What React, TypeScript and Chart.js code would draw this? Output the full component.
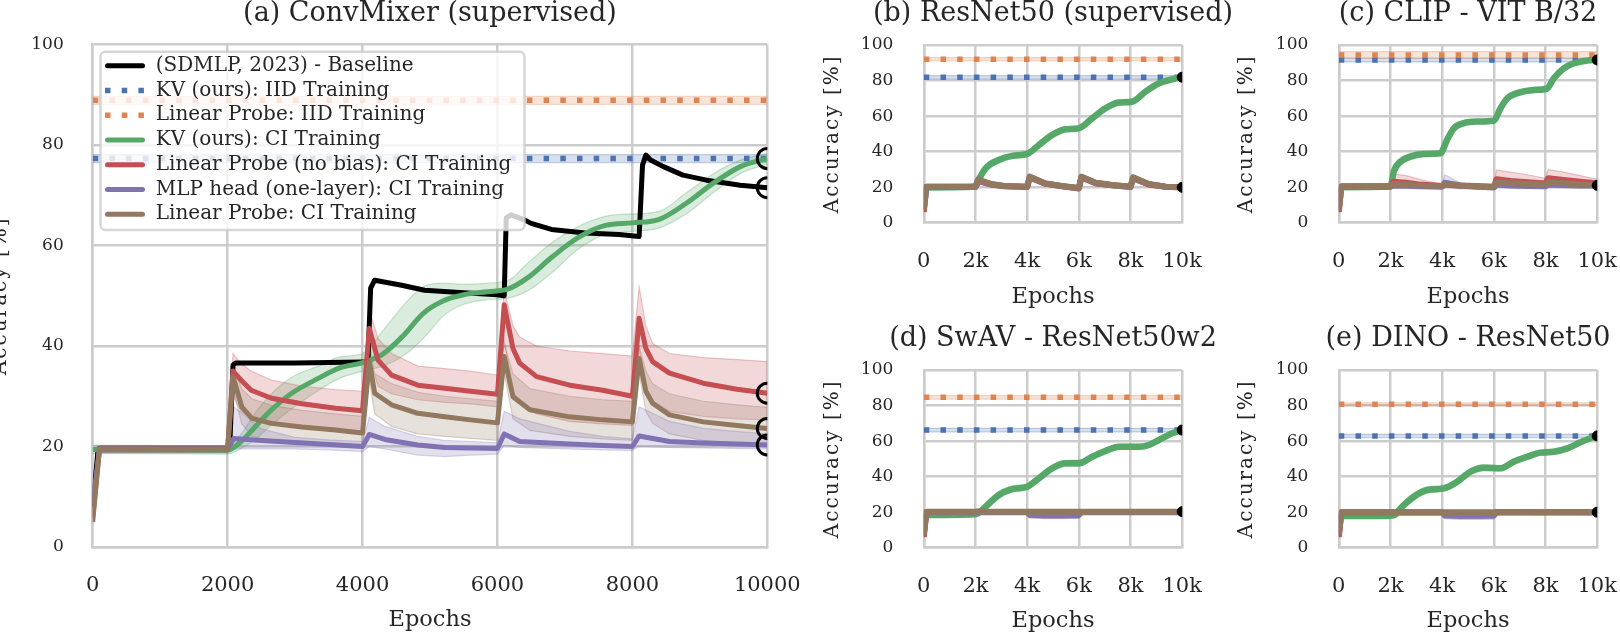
import React, { useEffect, useRef } from 'react';
import { Chart, registerables } from 'chart.js';
Chart.register(...registerables);

const FONT = "'DejaVu Serif', serif";
const GRID = '#cccccc';
const TEXT = '#262626';
const COL = { black: '#000000', blue: '#4C72B0', orange: '#DD8452', green: '#55A868', red: '#C44E52', purple: '#8172B3', brown: '#937860' };

// ---------------- tick labels ----------------
const Y_LABELS = ['0', '20', '40', '60', '80', '100'];
const X_LABELS_MAIN = ['0', '2000', '4000', '6000', '8000', '10000'];
const X_LABELS_SUB = ['0', '2k', '4k', '6k', '8k', '10k'];
const IID_X = [0, 10000];

const LEGEND_LABELS = [
  '(SDMLP, 2023) - Baseline',
  'KV (ours): IID Training',
  'Linear Probe: IID Training',
  'KV (ours): CI Training',
  'Linear Probe (no bias): CI Training',
  'MLP head (one-layer): CI Training',
  'Linear Probe: CI Training',
];

// ---------------- (a) ConvMixer ----------------
const A_BASE_X = [0, 80, 2030, 2080, 2120, 3000, 4000, 4080, 4120, 4180, 4580, 4920, 5500, 6000, 6100, 6130, 6200, 6300, 6400, 6500, 6800, 7300, 7800, 8100, 8150, 8200, 8270, 8460, 8750, 9100, 9600, 10000];
const A_BASE_Y = [8, 19.5, 19.5, 36.2, 36.6, 36.6, 36.8, 36.8, 51.5, 53.1, 52.1, 51.1, 50.6, 50.2, 50.0, 65.5, 66.1, 65.6, 65.1, 64.4, 63.2, 62.5, 62.2, 61.8, 76.0, 78.0, 77.0, 75.7, 74.0, 73.0, 72.0, 71.5];

const A_KV_X = [0, 2000, 2200, 2400, 2650, 2950, 3350, 3650, 4000, 4300, 4600, 4900, 5200, 5500, 5850, 6150, 6450, 6800, 7200, 7600, 8000, 8400, 8800, 9200, 9600, 10000];
const A_KV_Y = [19.4, 19.3, 21.0, 23.8, 27.3, 30.6, 33.6, 35.6, 36.7, 38.4, 42.0, 46.5, 49.0, 50.2, 50.8, 51.3, 53.6, 57.6, 61.6, 64.0, 64.5, 65.2, 68.4, 72.4, 75.7, 77.3];
const A_KV_UP = [20.3, 20.1, 22.5, 26.5, 30.5, 33.8, 36.0, 37.8, 38.5, 43.0, 48.0, 51.8, 52.5, 52.3, 52.5, 53.0, 56.5, 60.5, 63.8, 65.8, 66.3, 66.8, 70.5, 74.3, 77.0, 78.3];
const A_KV_LO = [18.6, 18.5, 19.6, 21.3, 24.3, 27.5, 31.2, 33.5, 35.0, 36.0, 38.0, 41.5, 46.0, 48.3, 49.2, 49.5, 51.0, 54.5, 59.3, 62.2, 62.8, 63.5, 66.3, 70.5, 74.3, 76.2];

const A_LPNB_X = [0, 100, 2000, 2080, 2200, 2350, 2650, 3100, 3600, 4000, 4100, 4230, 4430, 4820, 5220, 5600, 6000, 6100, 6230, 6330, 6580, 7070, 7560, 8000, 8100, 8200, 8300, 8550, 9050, 9550, 10000];
const A_LPNB_Y = [6, 19.5, 19.5, 35.0, 33.2, 31.2, 29.6, 28.5, 27.6, 27.1, 43.5, 37.2, 34.2, 32.2, 31.6, 31.0, 30.4, 48.2, 39.5, 36.6, 33.9, 32.2, 31.2, 30.0, 45.5, 39.5, 36.9, 34.6, 32.6, 31.4, 30.6];
const A_LPNB_UP = [6.5, 20.2, 20.2, 38.5, 36.5, 35.0, 33.2, 32.0, 31.3, 31.0, 47.2, 41.5, 38.5, 36.0, 35.5, 35.0, 34.2, 51.2, 44.0, 41.8, 40.0, 39.0, 38.5, 38.0, 51.8, 44.0, 40.5, 38.5, 37.7, 37.3, 36.9];
const A_LPNB_LO = [5.5, 18.8, 18.8, 30.0, 27.0, 25.5, 24.6, 23.8, 23.0, 22.6, 37.5, 32.0, 30.5, 29.3, 28.8, 28.5, 27.9, 41.0, 31.0, 28.5, 26.5, 25.0, 24.5, 24.2, 39.5, 31.0, 29.0, 27.0, 26.0, 25.5, 25.3];

const A_MLP_X = [0, 100, 2000, 2090, 2500, 3000, 3500, 4000, 4100, 4330, 4820, 5220, 5600, 6000, 6100, 6330, 7070, 7560, 8000, 8100, 8550, 9050, 9550, 10000];
const A_MLP_Y = [8.5, 19.5, 19.5, 21.6, 21.2, 20.8, 20.4, 20.0, 22.4, 21.4, 20.3, 19.8, 19.7, 19.6, 22.5, 21.0, 20.5, 20.2, 20.0, 22.1, 21.0, 20.7, 20.5, 20.3];
const A_MLP_UP = [9, 20.2, 20.2, 27.9, 23.5, 21.8, 21.3, 21.0, 25.8, 24.0, 22.0, 21.2, 21.0, 20.8, 27.0, 25.5, 23.0, 22.0, 21.5, 27.9, 25.0, 23.6, 23.0, 22.5];
const A_MLP_LO = [8, 18.8, 18.8, 19.5, 19.5, 19.5, 19.3, 19.0, 20.0, 19.5, 18.3, 18.0, 18.3, 18.5, 20.2, 19.8, 19.5, 19.3, 19.2, 20.0, 19.8, 19.7, 19.6, 19.5];

const A_LP_X = [0, 100, 2000, 2080, 2210, 2360, 2650, 3100, 3600, 4000, 4100, 4180, 4430, 4820, 5220, 5600, 6000, 6100, 6230, 6480, 7070, 7560, 8000, 8100, 8200, 8300, 8550, 9050, 9550, 10000];
const A_LP_Y = [5, 19.5, 19.5, 33.9, 27.9, 25.6, 24.6, 23.9, 23.3, 22.7, 36.9, 30.6, 28.3, 26.6, 25.9, 25.3, 24.7, 37.9, 29.9, 27.3, 25.9, 25.3, 24.9, 37.5, 31.0, 28.6, 26.3, 24.9, 24.2, 23.6];
const A_LP_UP = [5.5, 20.2, 20.2, 36.0, 31.5, 29.5, 28.2, 27.2, 26.5, 26.0, 39.5, 34.5, 32.5, 30.8, 30.0, 29.5, 29.0, 40.5, 34.5, 31.5, 30.0, 29.3, 29.0, 40.0, 35.0, 32.5, 30.5, 29.0, 28.3, 27.8];
const A_LP_LO = [4.5, 18.8, 18.8, 31.5, 24.5, 22.0, 21.2, 20.8, 20.5, 20.3, 33.5, 26.5, 24.0, 22.5, 22.0, 21.6, 21.2, 34.5, 25.5, 23.2, 22.0, 21.5, 21.2, 34.5, 27.0, 24.6, 22.5, 21.2, 20.6, 20.2];

const A_IID_KV = [77.3, 76.5, 78.1];   // value, lower, upper
const A_IID_LP = [88.9, 88.1, 89.7];

// ---------------- shared x grid for the near-chance series of (b)-(e) ----------------
const SUB_X = [0, 100, 2000, 2100, 2600, 3100, 4000, 4100, 4700, 5350, 6000, 6100, 6650, 7300, 8000, 8100, 8700, 9350, 10000];

// ---------------- (b) ResNet50 ----------------
const B_KV_X = [0, 2000, 2100, 2390, 2900, 3420, 4000, 4450, 4970, 5480, 6000, 6520, 7030, 7550, 8060, 8580, 9100, 9610, 10000];
const B_KV_Y = [19.8, 20.3, 23.5, 30.6, 35.3, 37.6, 38.7, 43.7, 49.4, 52.6, 53.1, 58.8, 64.4, 67.6, 68.1, 73.8, 78.5, 80.7, 81.9];
const B_KV_UP = [20.6, 20.9, 25.5, 32.5, 37.0, 39.0, 40.0, 45.5, 51.0, 54.0, 54.5, 60.5, 66.0, 69.0, 69.5, 75.3, 79.8, 81.8, 82.8];
const B_KV_LO = [19.0, 19.5, 21.5, 28.5, 33.5, 36.0, 37.2, 42.0, 47.5, 51.0, 51.8, 57.0, 62.5, 66.0, 66.8, 72.0, 77.0, 79.5, 81.0];
const B_LP = [7, 20.3, 20.3, 24.2, 21.8, 20.7, 20.3, 25.9, 22.1, 20.7, 19.5, 25.9, 22.5, 21.2, 20.3, 25.5, 21.8, 20.3, 19.9];
const B_LPNB = [6, 20.2, 20.2, 23.5, 21.5, 20.5, 20.1, 25.5, 22.0, 20.5, 19.3, 25.5, 22.2, 21.0, 20.1, 25.0, 21.5, 20.2, 19.8];
const B_LPNB_UP = [6.5, 20.8, 20.8, 25.0, 22.8, 21.5, 21.0, 27.0, 23.5, 21.8, 20.8, 27.0, 23.8, 22.3, 21.3, 26.5, 23.0, 21.5, 21.0];
const B_LPNB_LO = [5.5, 19.6, 19.6, 22.0, 20.3, 19.5, 19.2, 24.0, 20.6, 19.3, 18.2, 24.0, 20.8, 19.8, 19.0, 23.5, 20.2, 19.0, 18.8];
const B_MLP = [8, 20.1, 20.1, 23.8, 21.6, 20.6, 20.2, 25.7, 22.0, 20.6, 19.4, 25.7, 22.3, 21.1, 20.2, 25.3, 21.7, 20.2, 19.9];
const B_MLP_UP = [8.5, 20.7, 20.7, 25.5, 23.0, 21.6, 21.0, 27.5, 23.6, 21.8, 20.6, 27.5, 24.0, 22.5, 21.3, 27.0, 23.2, 21.5, 21.0];
const B_MLP_LO = [7.5, 19.5, 19.5, 22.2, 20.3, 19.6, 19.3, 24.0, 20.6, 19.4, 18.3, 24.0, 20.7, 19.7, 19.0, 23.6, 20.3, 19.0, 18.8];
const B_IID_KV = [81.9, 81.0, 82.8];
const B_IID_LP = [92.0, 91.1, 92.9];

// ---------------- (c) CLIP ----------------
const C_KV_X = [0, 2000, 2130, 2390, 2770, 3290, 3930, 4190, 4450, 4840, 5350, 6000, 6260, 6520, 6900, 7550, 8060, 8320, 8710, 9100, 9610, 10000];
const C_KV_Y = [20.0, 20.5, 29.0, 34.4, 37.2, 38.7, 39.1, 46.6, 53.1, 56.0, 56.9, 57.4, 64.4, 70.0, 72.9, 74.7, 75.5, 81.3, 86.9, 89.7, 91.2, 91.6];
const C_KV_UP = [20.8, 21.3, 31.5, 36.5, 39.0, 40.2, 40.5, 49.0, 55.0, 57.5, 58.2, 58.8, 66.5, 71.8, 74.5, 76.2, 77.0, 83.5, 88.5, 91.0, 92.3, 92.6];
const C_KV_LO = [19.2, 19.7, 26.5, 32.0, 35.3, 37.2, 37.7, 44.0, 51.0, 54.5, 55.6, 56.0, 62.0, 68.0, 71.2, 73.2, 74.0, 79.0, 85.2, 88.3, 90.0, 90.6];
const C_LP = [7, 20.5, 20.5, 21.8, 21.3, 20.9, 20.6, 21.8, 20.9, 20.6, 20.2, 22.8, 22.3, 21.8, 21.2, 22.8, 22.2, 21.6, 21.0];
const C_LPNB = [6, 20.4, 20.4, 23.0, 22.5, 21.5, 20.6, 21.5, 20.8, 20.4, 20.1, 24.5, 23.5, 22.8, 22.0, 25.0, 24.0, 23.0, 22.0];
const C_LPNB_UP = [6.5, 21.0, 21.0, 27.5, 26.5, 24.5, 21.5, 22.5, 21.8, 21.3, 21.0, 29.7, 28.5, 27.0, 25.0, 30.0, 28.5, 26.5, 24.5];
const C_LPNB_LO = [5.5, 19.8, 19.8, 20.5, 20.0, 19.6, 19.5, 20.3, 19.6, 19.4, 19.2, 20.5, 20.2, 20.0, 19.7, 20.5, 20.2, 20.0, 19.8];
const C_MLP = [8, 20.3, 20.3, 21.0, 20.8, 20.5, 20.3, 22.5, 21.0, 20.3, 19.8, 21.5, 21.0, 20.7, 20.5, 21.5, 21.2, 21.0, 21.0];
const C_MLP_UP = [8.5, 20.9, 20.9, 22.5, 22.0, 21.5, 21.0, 27.0, 22.5, 21.2, 20.8, 23.0, 22.5, 22.0, 21.5, 23.5, 23.5, 23.8, 24.0];
const C_MLP_LO = [7.5, 19.7, 19.7, 19.8, 19.7, 19.5, 19.5, 19.8, 19.2, 18.8, 18.6, 19.8, 19.6, 19.5, 19.4, 19.8, 19.6, 19.5, 19.5];
const C_IID_KV = [91.6, 90.5, 92.6];
const C_IID_LP = [94.4, 92.6, 96.3];

// ---------------- (d) SwAV ----------------
const D_KV_X = [0, 2000, 2390, 2900, 3420, 4000, 4450, 4970, 5480, 6000, 6520, 7030, 7550, 8320, 8710, 9100, 9610, 10000];
const D_KV_Y = [18.4, 18.8, 23.1, 29.7, 33.0, 34.3, 39.0, 44.7, 47.5, 47.5, 51.2, 54.4, 56.8, 56.8, 57.8, 60.6, 64.4, 66.2];
const D_KV_UP = [19.2, 19.6, 25.0, 31.8, 34.8, 36.0, 41.0, 46.5, 49.2, 49.3, 52.8, 56.0, 58.2, 58.2, 59.3, 62.0, 65.6, 67.2];
const D_KV_LO = [17.6, 18.0, 21.2, 27.6, 31.2, 32.6, 37.0, 42.8, 45.8, 45.8, 49.6, 52.8, 55.4, 55.4, 56.3, 59.2, 63.2, 65.2];
const D_LP = [7, 20.3, 20.3, 20.4, 20.3, 20.3, 20.3, 20.3, 20.2, 20.2, 20.2, 20.3, 20.3, 20.3, 20.3, 20.3, 20.3, 20.3, 20.3];
const D_LPNB = [6, 20.1, 20.1, 20.2, 20.1, 20.1, 20.1, 18.8, 18.6, 18.6, 18.7, 20.1, 20.1, 20.1, 20.1, 20.1, 20.1, 20.1, 20.1];
const D_LPNB_UP = [6.5, 20.7, 20.7, 20.8, 20.7, 20.7, 20.7, 19.8, 19.6, 19.6, 19.7, 20.7, 20.7, 20.7, 20.7, 20.7, 20.7, 20.7, 20.7];
const D_LPNB_LO = [5.5, 19.5, 19.5, 19.6, 19.5, 19.5, 19.5, 16.8, 16.5, 16.5, 16.6, 19.5, 19.5, 19.5, 19.5, 19.5, 19.5, 19.5, 19.5];
const D_MLP = [8, 20.0, 20.0, 20.1, 20.0, 20.0, 20.0, 18.5, 18.3, 18.3, 18.4, 20.0, 20.0, 20.0, 20.0, 20.0, 20.0, 20.0, 20.0];
const D_MLP_UP = [8.5, 20.6, 20.6, 20.7, 20.6, 20.6, 20.6, 19.6, 19.4, 19.4, 19.5, 20.6, 20.6, 20.6, 20.6, 20.6, 20.6, 20.6, 20.6];
const D_MLP_LO = [7.5, 19.4, 19.4, 19.5, 19.4, 19.4, 19.4, 16.8, 16.4, 16.4, 16.5, 19.4, 19.4, 19.4, 19.4, 19.4, 19.4, 19.4, 19.4];
const D_IID_KV = [66.2, 65.2, 67.2];
const D_IID_LP = [84.6, 83.6, 85.6];

// ---------------- (e) DINO ----------------
const E_KV_X = [0, 2000, 2200, 2390, 2900, 3420, 4060, 4580, 5100, 5610, 6260, 6770, 7290, 7810, 8320, 8840, 9350, 9740, 10000];
const E_KV_Y = [17.8, 18.0, 18.8, 22.2, 28.7, 32.5, 33.4, 37.1, 42.8, 45.0, 44.7, 48.4, 51.2, 53.5, 54.0, 55.9, 59.3, 61.6, 62.9];
const E_KV_UP = [18.6, 18.8, 19.8, 24.0, 30.8, 34.3, 35.0, 39.0, 44.6, 46.8, 46.3, 50.0, 52.7, 55.0, 55.5, 57.3, 60.6, 62.8, 63.9];
const E_KV_LO = [17.0, 17.2, 17.8, 20.4, 26.6, 30.7, 31.8, 35.2, 41.0, 43.2, 43.1, 46.8, 49.7, 52.0, 52.5, 54.5, 58.0, 60.4, 61.9];
const E_LP = [7, 20.0, 20.0, 20.1, 20.0, 20.0, 20.0, 20.0, 19.9, 19.9, 19.9, 20.1, 20.1, 20.1, 20.0, 20.1, 20.1, 20.1, 20.0];
const E_LPNB = [6, 19.9, 19.9, 20.0, 19.9, 19.9, 19.9, 18.5, 18.3, 18.3, 18.4, 19.9, 19.9, 19.9, 19.9, 19.9, 19.9, 19.9, 19.9];
const E_LPNB_UP = [6.5, 20.5, 20.5, 20.6, 20.5, 20.5, 20.5, 19.5, 19.3, 19.3, 19.4, 20.5, 20.5, 20.5, 20.5, 20.5, 20.5, 20.5, 20.5];
const E_LPNB_LO = [5.5, 19.3, 19.3, 19.4, 19.3, 19.3, 19.3, 16.5, 16.2, 16.2, 16.3, 19.3, 19.3, 19.3, 19.3, 19.3, 19.3, 19.3, 19.3];
const E_MLP = [8, 19.8, 19.8, 19.9, 19.8, 19.8, 19.8, 18.2, 18.0, 18.0, 18.1, 19.8, 19.8, 19.8, 19.8, 19.8, 19.8, 19.8, 19.8];
const E_MLP_UP = [8.5, 20.4, 20.4, 20.5, 20.4, 20.4, 20.4, 19.3, 19.1, 19.1, 19.2, 20.4, 20.4, 20.4, 20.4, 20.4, 20.4, 20.4, 20.4];
const E_MLP_LO = [7.5, 19.2, 19.2, 19.3, 19.2, 19.2, 19.2, 16.3, 16.0, 16.0, 16.1, 19.2, 19.2, 19.2, 19.2, 19.2, 19.2, 19.2, 19.2];
const E_IID_KV = [62.9, 62.0, 63.8];
const E_IID_LP = [80.7, 79.9, 81.5];

// ---------------- helpers ----------------
function rgba(hex: string, a: number) {
  const n = parseInt(hex.slice(1), 16);
  return `rgba(${(n >> 16) & 255},${(n >> 8) & 255},${n & 255},${a})`;
}
function pts(xs: number[], ys: number[]) {
  return xs.map((x, i) => ({ x, y: ys[i] }));
}
function lineDs(xs: number[], ys: number[], color: string, width: number, smooth = false): any {
  return {
    data: pts(xs, ys), borderColor: color, backgroundColor: color, borderWidth: width,
    pointRadius: 0, fill: false, tension: 0, borderJoinStyle: 'round',
    cubicInterpolationMode: smooth ? 'monotone' : 'default',
  };
}
function bandDs(xs: number[], up: number[], lo: number[], color: string, smooth = false): any[] {
  const common = {
    pointRadius: 0, tension: 0, borderWidth: 1.2, borderColor: rgba(color, 0.3),
    cubicInterpolationMode: smooth ? 'monotone' : 'default',
  };
  return [
    { ...common, data: pts(xs, up), fill: '+1', backgroundColor: rgba(color, 0.22) },
    { ...common, data: pts(xs, lo), fill: false },
  ];
}
function iidBand(v: number[], color: string): any[] {
  return bandDs(IID_X, [v[2], v[2]], [v[1], v[1]], color);
}
function iidLine(v: number[], color: string): any {
  return { ...lineDs(IID_X, [v[0], v[0]], color, 5.5), borderDash: [5.5, 11.2], borderCapStyle: 'butt' };
}
function endMarks(ys: number[], big: boolean): any {
  return {
    data: ys.map((y) => ({ x: 10000, y })), showLine: false, clip: 0,
    pointRadius: big ? 10 : 5, pointBorderWidth: big ? 3 : 1,
    pointBorderColor: '#000', pointBackgroundColor: big ? 'rgba(0,0,0,0)' : '#000',
  };
}
const last = (a: number[]) => a[a.length - 1];

function withOrder(list: any[]) {
  const n = list.length;
  return list.map((d, i) => ({ ...d, order: n - i }));
}

function mainDatasets() {
  return withOrder([
    ...bandDs(A_KV_X, A_KV_UP, A_KV_LO, COL.green, true),
    ...bandDs(A_LPNB_X, A_LPNB_UP, A_LPNB_LO, COL.red),
    ...bandDs(A_LP_X, A_LP_UP, A_LP_LO, COL.brown),
    ...bandDs(A_MLP_X, A_MLP_UP, A_MLP_LO, COL.purple),
    ...iidBand(A_IID_KV, COL.blue),
    ...iidBand(A_IID_LP, COL.orange),
    iidLine(A_IID_KV, COL.blue),
    iidLine(A_IID_LP, COL.orange),
    lineDs(A_BASE_X, A_BASE_Y, COL.black, 5),
    lineDs(A_KV_X, A_KV_Y, COL.green, 5, true),
    lineDs(A_LPNB_X, A_LPNB_Y, COL.red, 5),
    lineDs(A_MLP_X, A_MLP_Y, COL.purple, 5),
    lineDs(A_LP_X, A_LP_Y, COL.brown, 5),
    endMarks([last(A_KV_Y), last(A_BASE_Y), last(A_LPNB_Y), last(A_LP_Y), last(A_MLP_Y)], true),
  ]);
}

function subDatasets(kvX: number[], kvY: number[], kvUp: number[], kvLo: number[], lp: number[], nb: number[], nbUp: number[], nbLo: number[], mlp: number[], mlpUp: number[], mlpLo: number[], iidKv: number[], iidLp: number[]) {
  return withOrder([
    ...bandDs(kvX, kvUp, kvLo, COL.green, true),
    ...bandDs(SUB_X, nbUp, nbLo, COL.red),
    ...bandDs(SUB_X, mlpUp, mlpLo, COL.purple),
    ...iidBand(iidKv, COL.blue),
    ...iidBand(iidLp, COL.orange),
    iidLine(iidKv, COL.blue),
    iidLine(iidLp, COL.orange),
    lineDs(kvX, kvY, COL.green, 6.5, true),
    lineDs(SUB_X, nb, COL.red, 6),
    lineDs(SUB_X, mlp, COL.purple, 6),
    lineDs(SUB_X, lp, COL.brown, 6),
    endMarks([last(kvY), last(lp)], false),
  ]);
}

type Spec = {
  id: string; title: string;
  canvas: { left: number; top: number; width: number; height: number };
  area: { l: number; r: number; t: number; b: number };
  titleCY: number; epochsCY: number; yTitleX: number;
  xLabels: string[]; xTickSize: number; legend: boolean;
  datasets: () => any[];
};

// canvases are centred on their plot area so that the library title is centred on the plot
const PANELS: Spec[] = [
  { id: 'a', title: '(a) ConvMixer (supervised)', canvas: { left: 0, top: 0, width: 860.4, height: 640 },
    area: { l: 92.7, r: 767.7, t: 44.5, b: 547 }, titleCY: 13.5, epochsCY: 620.5, yTitleX: 1,
    xLabels: X_LABELS_MAIN, xTickSize: 21, legend: true, datasets: mainDatasets },
  { id: 'b', title: '(b) ResNet50 (supervised)', canvas: { left: 812.5, top: 0, width: 480, height: 316 },
    area: { l: 923.3, r: 1181.7, t: 45, b: 222.7 }, titleCY: 13.5, epochsCY: 297.5, yTitleX: 832,
    xLabels: X_LABELS_SUB, xTickSize: 21, legend: false,
    datasets: () => subDatasets(B_KV_X, B_KV_Y, B_KV_UP, B_KV_LO, B_LP, B_LPNB, B_LPNB_UP, B_LPNB_LO, B_MLP, B_MLP_UP, B_MLP_LO, B_IID_KV, B_IID_LP) },
  { id: 'c', title: '(c) CLIP - VIT B/32', canvas: { left: 1227.5, top: 0, width: 480, height: 316 },
    area: { l: 1338.3, r: 1596.7, t: 45, b: 222.7 }, titleCY: 13.5, epochsCY: 297.5, yTitleX: 1246,
    xLabels: X_LABELS_SUB, xTickSize: 21, legend: false,
    datasets: () => subDatasets(C_KV_X, C_KV_Y, C_KV_UP, C_KV_LO, C_LP, C_LPNB, C_LPNB_UP, C_LPNB_LO, C_MLP, C_MLP_UP, C_MLP_LO, C_IID_KV, C_IID_LP) },
  { id: 'd', title: '(d) SwAV - ResNet50w2', canvas: { left: 812.5, top: 316, width: 480, height: 324 },
    area: { l: 923.3, r: 1181.7, t: 370, b: 547.7 }, titleCY: 339, epochsCY: 621.5, yTitleX: 832,
    xLabels: X_LABELS_SUB, xTickSize: 21, legend: false,
    datasets: () => subDatasets(D_KV_X, D_KV_Y, D_KV_UP, D_KV_LO, D_LP, D_LPNB, D_LPNB_UP, D_LPNB_LO, D_MLP, D_MLP_UP, D_MLP_LO, D_IID_KV, D_IID_LP) },
  { id: 'e', title: '(e) DINO - ResNet50', canvas: { left: 1227.5, top: 316, width: 480, height: 324 },
    area: { l: 1338.3, r: 1596.7, t: 370, b: 547.7 }, titleCY: 339, epochsCY: 621.5, yTitleX: 1246,
    xLabels: X_LABELS_SUB, xTickSize: 21, legend: false,
    datasets: () => subDatasets(E_KV_X, E_KV_Y, E_KV_UP, E_KV_LO, E_LP, E_LPNB, E_LPNB_UP, E_LPNB_LO, E_MLP, E_MLP_UP, E_MLP_LO, E_IID_KV, E_IID_LP) },
];

function yTitlePlugin(x: number) {
  return {
    id: 'yTitle',
    afterDraw(chart: any) {
      const { ctx, chartArea } = chart;
      ctx.save();
      ctx.translate(x, (chartArea.top + chartArea.bottom) / 2);
      ctx.rotate(-Math.PI / 2);
      ctx.font = `20px ${FONT}`;
      (ctx as any).letterSpacing = '2px';
      ctx.fillStyle = TEXT;
      ctx.textAlign = 'center';
      ctx.textBaseline = 'middle';
      ctx.fillText('Accuracy [%]', 0, 0);
      (ctx as any).letterSpacing = '0px';
      ctx.restore();
    },
  };
}

const LEGEND_STYLE = [
  { color: COL.black, dotted: false },
  { color: COL.blue, dotted: true },
  { color: COL.orange, dotted: true },
  { color: COL.green, dotted: false },
  { color: COL.red, dotted: false },
  { color: COL.purple, dotted: false },
  { color: COL.brown, dotted: false },
];

const legendPlugin = {
  id: 'boxLegend',
  afterDraw(chart: any) {
    const ctx = chart.ctx;
    const bx = 100.5, by = 51.7, bw = 424, bh = 178.3, rad = 5;
    ctx.save();
    ctx.beginPath();
    ctx.moveTo(bx + rad, by);
    ctx.arcTo(bx + bw, by, bx + bw, by + bh, rad);
    ctx.arcTo(bx + bw, by + bh, bx, by + bh, rad);
    ctx.arcTo(bx, by + bh, bx, by, rad);
    ctx.arcTo(bx, by, bx + bw, by, rad);
    ctx.closePath();
    ctx.fillStyle = 'rgba(255,255,255,0.8)';
    ctx.fill();
    ctx.strokeStyle = 'rgba(204,204,204,0.8)';
    ctx.lineWidth = 2.5;
    ctx.stroke();
    LEGEND_LABELS.forEach((label, i) => {
      const st = LEGEND_STYLE[i];
      const y = 65.7 + i * 24.75;
      ctx.beginPath();
      if (st.dotted) {
        ctx.setLineDash([5.5, 11.2]);
        ctx.lineCap = 'butt';
        ctx.lineWidth = 5.5;
        ctx.moveTo(105, y);
        ctx.lineTo(145, y);
      } else {
        ctx.setLineDash([]);
        ctx.lineCap = 'round';
        ctx.lineWidth = 5;
        ctx.moveTo(107.5, y);
        ctx.lineTo(142.5, y);
      }
      ctx.strokeStyle = st.color;
      ctx.stroke();
      ctx.setLineDash([]);
      ctx.fillStyle = TEXT;
      ctx.font = `20px ${FONT}`;
      ctx.textAlign = 'left';
      ctx.textBaseline = 'middle';
      ctx.fillText(label, 155.8, y);
    });
    ctx.restore();
  },
};

function makeConfig(p: Spec): any {
  const W = p.canvas.width, H = p.canvas.height;
  const r = p.area.r - p.canvas.left, l = p.area.l - p.canvas.left;
  const t = p.area.t - p.canvas.top, b = p.area.b - p.canvas.top;
  const TS = 27;
  const titlePadTop = Math.max(0, p.titleCY - p.canvas.top - TS / 2);
  const titlePadBottom = t - TS - titlePadTop;
  const XT = 22.5;
  const xTitlePadBottom = Math.max(0, H - (p.epochsCY - p.canvas.top) - (XT * 1.2) / 2);
  return {
    type: 'line',
    data: { datasets: p.datasets() },
    options: {
      responsive: false, maintainAspectRatio: false, animation: false, devicePixelRatio: 1, events: [],
      layout: { padding: 0 },
      plugins: {
        legend: { display: false }, tooltip: { enabled: false },
        title: { display: true, text: p.title, color: TEXT, font: { family: FONT, size: TS, weight: 'normal', lineHeight: 1 },
          padding: { top: titlePadTop, bottom: titlePadBottom } },
      },
      scales: {
        x: {
          type: 'linear', min: 0, max: 10000,
          grid: { color: GRID, lineWidth: 2.5, drawTicks: false },
          border: { color: GRID, width: 2.5 },
          ticks: { stepSize: 2000, autoSkip: false, maxRotation: 0, minRotation: 0, padding: 26.4, color: TEXT,
            font: { family: FONT, size: p.xTickSize }, callback: (_v: any, i: number) => p.xLabels[i] },
          title: { display: true, text: 'Epochs', color: TEXT, font: { family: FONT, size: XT }, padding: { top: 0, bottom: xTitlePadBottom } },
          afterFit: (s: any) => { s.height = H - b; s.paddingLeft = 0; s.paddingRight = 0; },
        },
        y: {
          min: 0, max: 100,
          grid: { color: GRID, lineWidth: 2.5, drawTicks: false },
          border: { color: GRID, width: 2.5 },
          ticks: { stepSize: 20, autoSkip: false, padding: p.id === 'a' ? 29 : 30.5, color: TEXT,
            font: { family: FONT, size: 17 }, callback: (_v: any, i: number) => Y_LABELS[i] },
          afterFit: (s: any) => { s.width = l; s.paddingTop = 0; s.paddingBottom = 0; },
        },
        // empty spacer on the right so the plot sits where the reference has it
        yRight: {
          position: 'right', min: 0, max: 1,
          grid: { display: false, drawOnChartArea: false, drawTicks: false },
          border: { display: false },
          ticks: { display: false },
          afterFit: (s: any) => { s.width = W - r; s.paddingTop = 0; s.paddingBottom = 0; },
        },
      },
    },
    plugins: p.legend ? [yTitlePlugin(p.yTitleX - p.canvas.left), legendPlugin] : [yTitlePlugin(p.yTitleX - p.canvas.left)],
  };
}

function Panel({ spec }: { spec: Spec }) {
  const ref = useRef<HTMLCanvasElement>(null);
  useEffect(() => {
    const chart = new Chart(ref.current as HTMLCanvasElement, makeConfig(spec));
    return () => chart.destroy();
  }, [spec]);
  const c = spec.canvas;
  return (
    <canvas ref={ref} width={c.width} height={c.height}
      style={{ position: 'absolute', left: c.left, top: c.top, width: c.width, height: c.height }} />
  );
}

export default function App() {
  return (
    <div style={{ position: 'absolute', left: 0, top: 0, width: 1620, height: 632, overflow: 'hidden', background: '#ffffff' }}>
      {PANELS.map((p) => <Panel key={p.id} spec={p} />)}
    </div>
  );
}
